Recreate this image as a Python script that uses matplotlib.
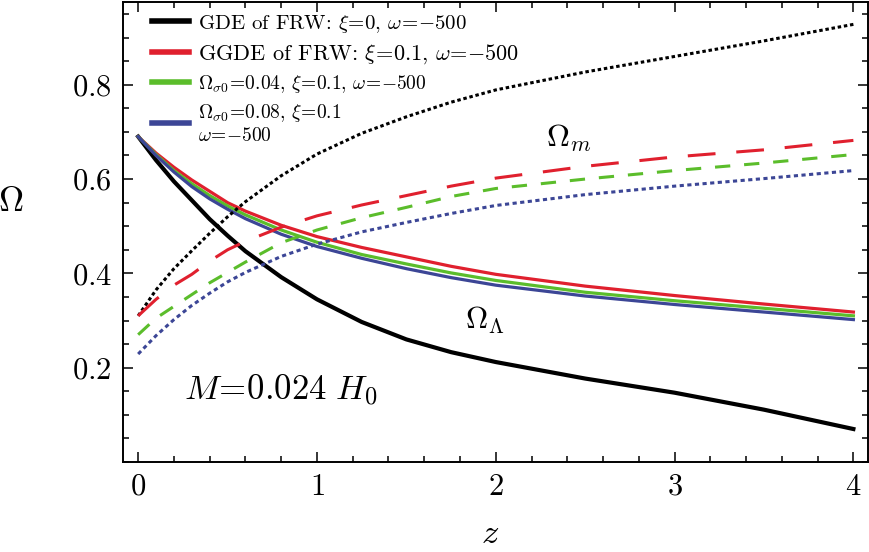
import matplotlib
matplotlib.use("Agg")
import matplotlib.pyplot as plt
from matplotlib.ticker import MultipleLocator

plt.rcParams["mathtext.fontset"] = "cm"
plt.rcParams["font.family"] = ["cmr10", "DejaVu Serif"]
plt.rcParams["axes.unicode_minus"] = False
plt.rcParams["lines.scale_dashes"] = False

# redshift grid
z = [0, 0.1, 0.2, 0.3, 0.4, 0.5, 0.6, 0.8, 1.0, 1.25, 1.5, 1.75, 2.0, 2.5, 3.0, 3.5, 4.0]

# Omega_Lambda (solid) and Omega_m (dashed / dotted)
gde_L = [0.69, 0.64, 0.595, 0.555, 0.515, 0.48, 0.447, 0.392, 0.345, 0.297, 0.26, 0.233, 0.212, 0.177, 0.147, 0.111, 0.07]
gde_m = [0.31, 0.365, 0.41, 0.448, 0.485, 0.52, 0.552, 0.607, 0.653, 0.697, 0.732, 0.763, 0.789, 0.827, 0.86, 0.893, 0.928]

ggde_L = [0.69, 0.655, 0.625, 0.598, 0.574, 0.55, 0.532, 0.502, 0.478, 0.455, 0.435, 0.415, 0.398, 0.373, 0.353, 0.335, 0.318]
ggde_m = [0.31, 0.345, 0.375, 0.398, 0.426, 0.45, 0.468, 0.498, 0.522, 0.545, 0.565, 0.585, 0.602, 0.627, 0.647, 0.662, 0.682]

s04_L = [0.69, 0.652, 0.618, 0.59, 0.565, 0.543, 0.524, 0.492, 0.466, 0.44, 0.42, 0.401, 0.385, 0.36, 0.342, 0.326, 0.31]
s04_m = [0.27, 0.305, 0.33, 0.355, 0.38, 0.402, 0.424, 0.465, 0.492, 0.518, 0.54, 0.563, 0.58, 0.6, 0.618, 0.634, 0.652]

s08_L = [0.69, 0.65, 0.615, 0.584, 0.558, 0.536, 0.516, 0.483, 0.457, 0.432, 0.41, 0.391, 0.375, 0.352, 0.334, 0.318, 0.302]
s08_m = [0.229, 0.268, 0.302, 0.332, 0.358, 0.382, 0.402, 0.436, 0.462, 0.488, 0.508, 0.527, 0.544, 0.567, 0.585, 0.601, 0.618]

labels = [
    r"GDE of FRW: $\xi\!=\!0$, $\omega\!=\!{-}500$",
    r"GGDE of FRW: $\xi\!=\!0.1$, $\omega\!=\!{-}500$",
    r"$\Omega_{\sigma 0}\!=\!0.04$, $\xi\!=\!0.1$, $\omega\!=\!{-}500$",
    r"$\Omega_{\sigma 0}\!=\!0.08$, $\xi\!=\!0.1$" + "\n" + r"$\omega\!=\!{-}500$",
]
label_sizes = [15, 16, 14, 14]
xticks = [0, 1, 2, 3, 4]
xticklabels = ["$0$", "$1$", "$2$", "$3$", "$4$"]
yticks = [0.2, 0.4, 0.6, 0.8]
yticklabels = ["$0.2$", "$0.4$", "$0.6$", "$0.8$"]

red = "#e0202e"
green = "#5bbd2b"
blue = "#3c4696"

fig = plt.figure(figsize=(8.69, 5.52), dpi=100)
ax = fig.add_axes([0.1415, 0.163, 0.857, 0.833])

ax.plot(z, gde_L, color="black", lw=3.0, label=labels[0])
ax.plot(z, ggde_L, color=red, lw=2.3, label=labels[1])
ax.plot(z, s04_L, color=green, lw=2.3, label=labels[2])
ax.plot(z, s08_L, color=blue, lw=2.3, label=labels[3])

ax.plot(z, gde_m, color="black", lw=2.2, dashes=(2.5, 2))
ax.plot(z, ggde_m, color=red, lw=2.2, dashes=(20, 15))
ax.plot(z, s04_m, color=green, lw=2.2, dashes=(11, 10))
ax.plot(z, s08_m, color=blue, lw=2.2, dashes=(3, 2.5))

ax.set_xlim(-0.085, 4.08)
ax.set_ylim(0, 0.975)
ax.set_xticks(xticks, xticklabels)
ax.set_yticks(yticks, yticklabels)
ax.xaxis.set_minor_locator(MultipleLocator(0.2))
ax.yaxis.set_minor_locator(MultipleLocator(0.05))
ax.tick_params(which="both", direction="in", top=True, right=True, width=1.1,
               labelsize=22, pad=8)
ax.tick_params(which="major", length=7)
ax.tick_params(which="minor", length=4)
for sp in ax.spines.values():
    sp.set_linewidth(1.4)

ax.set_xlabel(r"$z$", fontsize=25)
ax.xaxis.set_label_coords(0.493, -0.122)
ax.set_ylabel(r"$\Omega$", fontsize=25, rotation=0)
ax.yaxis.set_label_coords(-0.15, 0.53)

ax.text(2.41, 0.686, r"$\Omega_m$", fontsize=23, ha="center", va="center")
ax.text(1.83, 0.30, r"$\Omega_\Lambda$", fontsize=22, ha="left", va="center")
ax.text(0.80, 0.153, r"$M\!=\!0.024\ H_0$", fontsize=25, ha="center", va="center")

leg = ax.legend(loc="upper left", bbox_to_anchor=(0.025, 1.0), frameon=False,
                fontsize=15, handlelength=1.8, handletextpad=0.4,
                labelspacing=0.35, borderaxespad=0.1)
for line in leg.get_lines():
    line.set_linewidth(4)
for t, s in zip(leg.get_texts(), label_sizes):
    t.set_fontsize(s)

fig.savefig("out.png", dpi=100)
